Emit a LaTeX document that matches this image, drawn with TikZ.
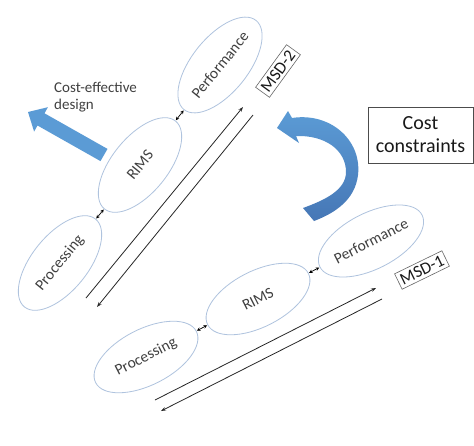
\documentclass[tikz,border=0pt]{standalone}
\usepackage{fontspec}
\setmainfont{Carlito}
\usetikzlibrary{shapes.geometric,arrows.meta}
\definecolor{ellline}{HTML}{AFC3DE}
\definecolor{txt}{HTML}{404040}
\definecolor{bluea}{HTML}{5B9BD5}
\definecolor{blueb}{HTML}{4677B6}
\begin{document}
\begin{tikzpicture}[x=1pt,y=-1pt,
  ell/.style={ellipse, draw=ellline, line width=0.8pt, minimum width=113pt, minimum height=56pt, inner sep=0pt, font=\fontsize{15.5}{18}\selectfont, text=txt},
  link/.style={{Stealth[length=3.5pt,width=3.5pt]}-{Stealth[length=3.5pt,width=3.5pt]}, line width=0.7pt, black, shorten <=0.5pt, shorten >=0.5pt},
  trend/.style={-{Stealth[length=5pt,width=3.5pt]}, line width=0.8pt, draw=black!85},
  msd/.style={draw=black!60, line width=0.6pt, inner sep=3pt, text=black!90, font=\fontsize{17}{20}\selectfont},
]
\useasboundingbox[fill=white] (0,0) rectangle (474,445);

% upper group (MSD-2)
\node[ell, rotate=51] (perf2) at (220,65) {Performance};
\node[ell, rotate=51] (rims2) at (140,165) {RIMS};
\node[ell, rotate=51] (proc2) at (60,263) {Processing};
\draw[link] (rims2) -- (perf2);
\draw[link] (proc2) -- (rims2);
\coordinate (a1) at (86,298);
\coordinate (a2) at (243,107);
\coordinate (b1) at (253,115);
\coordinate (b2) at (97,307);
\draw[trend] (a1) -- (a2);
\draw[trend] (b1) -- (b2);
\node[msd, rotate=54] (msd2) at (278,71) {MSD-2};

% lower group (MSD-1)
\node[ell, rotate=27] (proc1) at (146,357) {Processing};
\node[ell, rotate=27] (rims1) at (258,299) {RIMS};
\node[ell, rotate=27] (perf1) at (371,241) {Performance};
\draw[link] (proc1) -- (rims1);
\draw[link] (rims1) -- (perf1);
\coordinate (c1) at (155,400);
\coordinate (c2) at (376,288);
\coordinate (d1) at (382,299);
\coordinate (d2) at (161,411);
\draw[trend] (c1) -- (c2);
\draw[trend] (d1) -- (d2);
\node[msd, rotate=26] (msd1) at (422,270) {MSD-1};

% cost constraints
\node[draw=black!70, line width=0.7pt, minimum width=105pt, minimum height=56pt, align=center, text=black!90,
  font=\fontsize{20}{23}\selectfont] (cost) at (420.5,135) {Cost\\constraints};

% cost-effective design
\node[anchor=base west, inner sep=0pt, text=txt, font=\fontsize{15}{17}\selectfont] (ce1) at (54,92) {Cost-effective};
\node[anchor=base west, inner sep=0pt, text=txt, font=\fontsize{15}{17}\selectfont] (ce2) at (54,109) {design};

% straight blue arrow
\fill[bluea] (28,112) -- (47.9,107.2) -- (44.5,113.3) -- (107.5,148.9) -- (100.5,161.1) -- (37.5,125.5) -- (34.1,131.6) -- cycle;

% curved blue arrow
\shade[top color=bluea, bottom color=blueb]
  (277,128) -- (288,111) -- (292,118)
  .. controls (330,112) and (362,140) .. (358,175)
  .. controls (355,200) and (335,213) .. (314,221)
  -- (303,208)
  .. controls (325,200) and (346,190) .. (346,172)
  .. controls (346,150) and (325,135) .. (296,136)
  -- (299,143) -- cycle;
\end{tikzpicture}
\end{document}
